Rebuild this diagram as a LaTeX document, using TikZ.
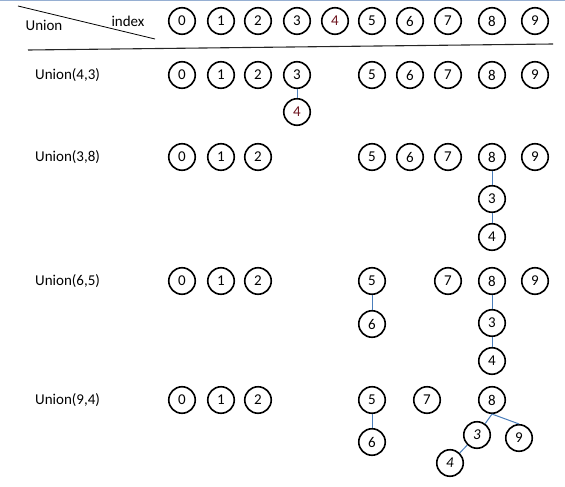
\documentclass[tikz,border=0pt]{standalone}
\usepackage{fontspec}
\setmainfont{Carlito}
\definecolor{edgeblue}{RGB}{74,126,187}
\definecolor{topblue}{RGB}{150,175,210}
\definecolor{maroon4}{RGB}{110,20,30}
\begin{document}
\begin{tikzpicture}[x=1pt,y=-1pt,
  nd/.style={circle,draw=black,line width=1.6pt,minimum size=26.5pt,inner sep=0pt,font=\fontsize{15}{15}\selectfont},
  itnd/.style={nd,font=\fontsize{15}{15}\selectfont\itshape},
  lbl/.style={font=\fontsize{15}{15}\selectfont,anchor=west,inner sep=0pt},
  hd/.style={font=\fontsize{15}{15}\selectfont,inner sep=0pt},
  edge/.style={draw=edgeblue,line width=1pt}]
\useasboundingbox (0,0) rectangle (565,487);
% top border line
\coordinate (tl) at (0,0.5);
\coordinate (tr) at (565,0.5);
\draw[topblue,line width=1pt] (tl) -- (tr);
% header
\coordinate (dg1) at (18,6);
\coordinate (dg2) at (155,39);
\draw[black,line width=0.8pt] (dg1) -- (dg2);
\node[hd] (hunion) at (44,25) {Union};
\node[hd] (hindex) at (128,21) {index};
\coordinate (dv1) at (28,50);
\coordinate (dv2) at (553,44);
\draw[black!85,line width=1.1pt] (dv1) -- (dv2);
\node[nd] (h0) at (182,21) {0};
\node[nd] (h1) at (221,21) {1};
\node[nd] (h2) at (258,21) {2};
\node[nd] (h3) at (297,21) {3};
\node[nd,text=maroon4] (h4) at (335,21) {4};
\node[nd] (h5) at (372,21) {5};
\node[nd] (h6) at (410,21) {6};
\node[nd] (h7) at (448,21) {7};
\node[nd] (h8) at (492,21) {8};
\node[nd] (h9) at (535,21) {9};
% row 1
\node[lbl] (l1) at (35,75) {Union(4,3)};
\node[nd] (a0) at (182,75) {0};
\node[nd] (a1) at (221,75) {1};
\node[nd] (a2) at (258,75) {2};
\node[nd] (a3) at (297,75) {3};
\node[nd,text=maroon4] (a4) at (297,112) {4};
\node[nd] (a5) at (372,75) {5};
\node[nd] (a6) at (410,75) {6};
\node[nd] (a7) at (448,75) {7};
\node[nd] (a8) at (492,75) {8};
\node[nd] (a9) at (535,75) {9};
\draw[edge] (a3) -- (a4);
% row 2
\node[lbl] (l2) at (35,157) {Union(3,8)};
\node[nd] (b0) at (182,157) {0};
\node[nd] (b1) at (221,157) {1};
\node[nd] (b2) at (258,157) {2};
\node[nd] (b5) at (372,157) {5};
\node[nd] (b6) at (410,157) {6};
\node[nd] (b7) at (448,157) {7};
\node[nd] (b8) at (492,157) {8};
\node[nd] (b9) at (535,157) {9};
\node[nd] (b3) at (492,199) {3};
\node[nd] (b4) at (492,237) {4};
\draw[edge] (b8) -- (b3);
\draw[edge] (b3) -- (b4);
% row 3
\node[lbl] (l3) at (35,281) {Union(6,5)};
\node[nd] (c0) at (182,281) {0};
\node[nd] (c1) at (221,281) {1};
\node[nd] (c2) at (258,281) {2};
\node[nd] (c5) at (372,281) {5};
\node[nd] (c7) at (448,281) {7};
\node[nd] (c8) at (492,281) {8};
\node[nd] (c9) at (535,281) {9};
\node[nd] (c6) at (372,324) {6};
\node[nd] (c3) at (492,323) {3};
\node[nd] (c4) at (492,361) {4};
\draw[edge] (c5) -- (c6);
\draw[edge] (c8) -- (c3);
\draw[edge] (c3) -- (c4);
% row 4
\node[lbl] (l4) at (35,400) {Union(9,4)};
\node[nd] (d0) at (182,400) {0};
\node[nd] (d1) at (221,400) {1};
\node[nd] (d2) at (258,400) {2};
\node[nd] (d5) at (372,400) {5};
\node[nd] (d7) at (427,400) {7};
\node[nd] (d8) at (492,400) {8};
\node[nd] (d6) at (372,442) {6};
\node[itnd] (d3) at (477,435) {3};
\node[nd] (d9) at (519,438) {9};
\node[itnd] (d4) at (450,463) {4};
\draw[edge] (d5) -- (d6);
\draw[edge] (d8.south) -- (d3);
\draw[edge] (d8.south) -- (d9.north);
\draw[edge] (d3) -- (d4);
\end{tikzpicture}
\end{document}
